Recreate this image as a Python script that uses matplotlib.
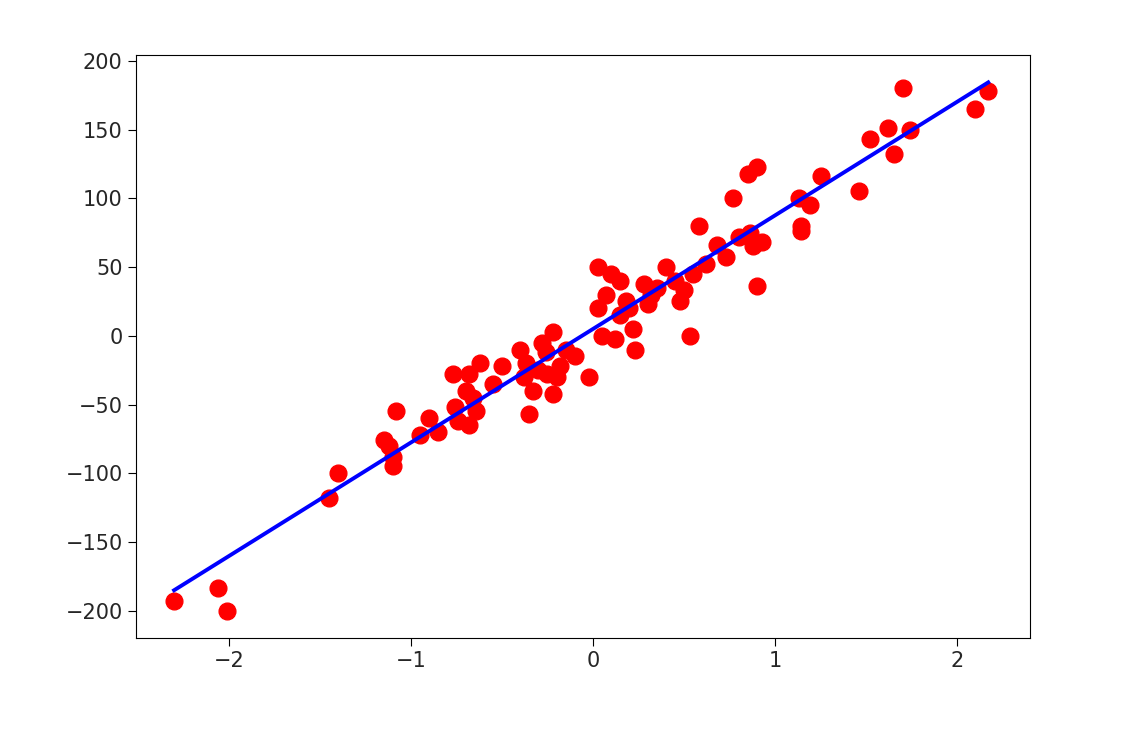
import matplotlib
matplotlib.use('Agg')
import matplotlib.pyplot as plt
import numpy as np

x_pts = [-2.3, -2.06, -2.01, -1.45, -1.4, -1.15, -1.12, -1.1, -1.1, -1.08, -0.95, -0.9, -0.85,
         -0.77, -0.76, -0.74, -0.7, -0.68, -0.68, -0.66, -0.64, -0.62, -0.55, -0.5, -0.4, -0.38,
         -0.37, -0.35, -0.33, -0.3, -0.28, -0.26, -0.25, -0.22, -0.22, -0.2, -0.18, -0.15, -0.1,
         -0.02, 0.03, 0.03, 0.05, 0.07, 0.1, 0.12, 0.15, 0.15, 0.18, 0.2, 0.22, 0.23, 0.28, 0.3,
         0.32, 0.35, 0.4, 0.45, 0.48, 0.5, 0.53, 0.55, 0.58, 0.62, 0.68, 0.73, 0.77, 0.8, 0.85,
         0.86, 0.88, 0.9, 0.9, 0.93, 1.13, 1.14, 1.14, 1.19, 1.25, 1.46, 1.52, 1.62, 1.65, 1.7,
         1.74, 2.1, 2.17]
y_pts = [-193, -183, -200, -118, -100, -76, -80, -95, -88, -55, -72, -60, -70,
         -28, -52, -62, -40, -28, -65, -45, -55, -20, -35, -22, -10, -30,
         -20, -57, -40, -25, -5, -12, -28, 3, -42, -30, -22, -10, -15,
         -30, 50, 20, 0, 30, 45, -2, 40, 15, 25, 20, 5, -10, 38, 23,
         30, 35, 50, 40, 25, 33, 0, 45, 80, 52, 66, 57, 100, 72, 118,
         75, 65, 123, 36, 68, 100, 80, 76, 95, 116, 105, 143, 151, 132, 180,
         150, 165, 178]

# fitted line
slope = 82.6
intercept = 5.0

x = np.array(x_pts)
fig = plt.figure(figsize=(11.32, 7.29), dpi=100)
ax = fig.add_axes([0.120, 0.125, 0.790, 0.80])
ax.scatter(x, y_pts, color='red', s=145, zorder=2)
ax.plot(x, slope * x + intercept, color='blue', linewidth=2.8, zorder=3)
ax.set_xlim(-2.51, 2.40)
ax.set_ylim(-219.6, 204.4)
ax.set_xticks([-2, -1, 0, 1, 2])
ax.set_yticks([-200, -150, -100, -50, 0, 50, 100, 150, 200])
ax.tick_params(labelsize=15, length=6, labelcolor='#262626')
fig.savefig('out.png', dpi=100)
